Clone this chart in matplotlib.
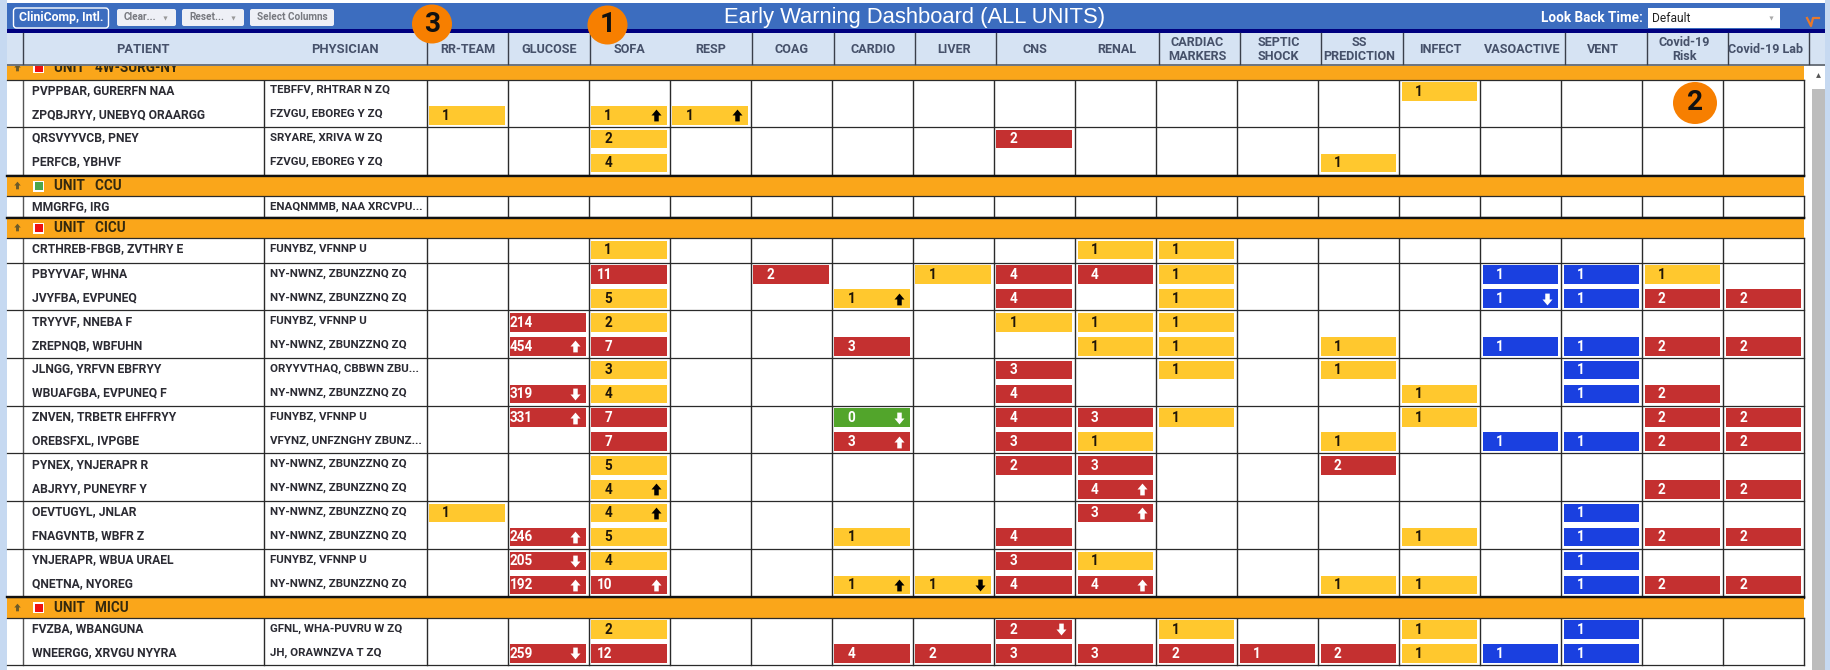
import matplotlib
matplotlib.use('Agg')
import matplotlib.pyplot as plt
from matplotlib.patches import Rectangle, FancyBboxPatch, Ellipse
from matplotlib.path import Path

patients = ['PVPPBAR, GURERFN NAA', 'ZPQBJRYY, UNEBYQ ORAARGG', 'QRSVYYVCB, PNEY', 'PERFCB, YBHVF',
            'MMGRFG, IRG', 'CRTHREB-FBGB, ZVTHRY E', 'PBYYVAF, WHNA', 'JVYFBA, EVPUNEQ',
            'TRYYVF, NNEBA F', 'ZREPNQB, WBFUHN', 'JLNGG, YRFVN EBFRYY', 'WBUAFGBA, EVPUNEQ F',
            'ZNVEN, TRBETR EHFFRYY', 'OREBSFXL, IVPGBE', 'PYNEX, YNJERAPR R', 'ABJRYY, PUNEYRF Y',
            'OEVTUGYL, JNLAR', 'FNAGVNTB, WBFR Z', 'YNJERAPR, WBUA URAEL', 'QNETNA, NYOREG',
            'FVZBA, WBANGUNA', 'WNEERGG, XRVGU NYYRA']
ALN = 'NY-NWNZ, ZBUNZZNQ ZQ'
physicians = ['TEBFFV, RHTRAR N ZQ', 'FZVGU, EBOREG Y ZQ', 'SRYARE, XRIVA W ZQ', 'FZVGU, EBOREG Y ZQ',
              'ENAQNMMB, NAA XRCVPU...', 'FUNYBZ, VFNNP U', ALN, ALN,
              'FUNYBZ, VFNNP U', ALN, 'ORYYVTHAQ, CBBWN ZBU...', ALN,
              'FUNYBZ, VFNNP U', 'VFYNZ, UNFZNGHY ZBUNZ...', ALN, ALN,
              ALN, ALN, 'FUNYBZ, VFNNP U', ALN,
              'GFNL, WHA-PUVRU W ZQ', 'JH, ORAWNZVA T ZQ']
columns = ['RR-TEAM', 'GLUCOSE', 'SOFA', 'RESP', 'COAG', 'CARDIO', 'LIVER', 'CNS', 'RENAL',
           'CARDIAC\nMARKERS', 'SEPTIC\nSHOCK', 'SS\nPREDICTION', 'INFECT', 'VASOACTIVE', 'VENT',
           'Covid-19\nRisk', 'Covid-19 Lab']

# each cell: row, value, level (y/r/g/b), trend
rr_team = [(1, 1, 'y', ''), (16, 1, 'y', '')]
glucose = [(8, 214, 'r', ''), (9, 454, 'r', 'u'), (11, 319, 'r', 'd'), (12, 331, 'r', 'u'),
           (17, 246, 'r', 'u'), (18, 205, 'r', 'd'), (19, 192, 'r', 'u'), (21, 259, 'r', 'd')]
sofa = [(1, 1, 'y', 'u'), (2, 2, 'y', ''), (3, 4, 'y', ''), (5, 1, 'y', ''), (6, 11, 'r', ''),
        (7, 5, 'y', ''), (8, 2, 'y', ''), (9, 7, 'r', ''), (10, 3, 'y', ''), (11, 4, 'y', ''),
        (12, 7, 'r', ''), (13, 7, 'r', ''), (14, 5, 'y', ''), (15, 4, 'y', 'u'), (16, 4, 'y', 'u'),
        (17, 5, 'y', ''), (18, 4, 'y', ''), (19, 10, 'r', 'u'), (20, 2, 'y', ''), (21, 12, 'r', '')]
resp = [(1, 1, 'y', 'u')]
coag = [(6, 2, 'r', '')]
cardio = [(7, 1, 'y', 'u'), (9, 3, 'r', ''), (12, 0, 'g', 'd'), (13, 3, 'r', 'u'), (17, 1, 'y', ''),
          (19, 1, 'y', 'u'), (21, 4, 'r', '')]
liver = [(6, 1, 'y', ''), (19, 1, 'y', 'd'), (21, 2, 'r', '')]
cns = [(2, 2, 'r', ''), (6, 4, 'r', ''), (7, 4, 'r', ''), (8, 1, 'y', ''), (10, 3, 'r', ''),
       (11, 4, 'r', ''), (12, 4, 'r', ''), (13, 3, 'r', ''), (14, 2, 'r', ''), (17, 4, 'r', ''),
       (18, 3, 'r', ''), (19, 4, 'r', ''), (20, 2, 'r', 'd'), (21, 3, 'r', '')]
renal = [(5, 1, 'y', ''), (6, 4, 'r', ''), (8, 1, 'y', ''), (9, 1, 'y', ''), (12, 3, 'r', ''),
         (13, 1, 'y', ''), (14, 3, 'r', ''), (15, 4, 'r', 'u'), (16, 3, 'r', 'u'), (18, 1, 'y', ''),
         (19, 4, 'r', 'u'), (21, 3, 'r', '')]
cardiac = [(5, 1, 'y', ''), (6, 1, 'y', ''), (7, 1, 'y', ''), (8, 1, 'y', ''), (9, 1, 'y', ''),
           (10, 1, 'y', ''), (12, 1, 'y', ''), (20, 1, 'y', ''), (21, 2, 'r', '')]
septic = [(21, 1, 'r', '')]
ss_pred = [(3, 1, 'y', ''), (9, 1, 'y', ''), (10, 1, 'y', ''), (13, 1, 'y', ''), (14, 2, 'r', ''),
           (19, 1, 'y', ''), (21, 2, 'r', '')]
infect = [(0, 1, 'y', ''), (11, 1, 'y', ''), (12, 1, 'y', ''), (17, 1, 'y', ''), (19, 1, 'y', ''),
          (20, 1, 'y', ''), (21, 1, 'y', '')]
vaso = [(6, 1, 'b', ''), (7, 1, 'b', 'd'), (9, 1, 'b', ''), (13, 1, 'b', ''), (21, 1, 'b', '')]
vent = [(6, 1, 'b', ''), (7, 1, 'b', ''), (9, 1, 'b', ''), (10, 1, 'b', ''), (11, 1, 'b', ''),
        (13, 1, 'b', ''), (16, 1, 'b', ''), (17, 1, 'b', ''), (18, 1, 'b', ''), (19, 1, 'b', ''),
        (20, 1, 'b', ''), (21, 1, 'b', '')]
covid_risk = [(6, 1, 'y', ''), (7, 2, 'r', ''), (9, 2, 'r', ''), (11, 2, 'r', ''), (12, 2, 'r', ''),
              (13, 2, 'r', ''), (15, 2, 'r', ''), (17, 2, 'r', ''), (19, 2, 'r', '')]
covid_lab = [(7, 2, 'r', ''), (9, 2, 'r', ''), (12, 2, 'r', ''), (13, 2, 'r', ''), (15, 2, 'r', ''),
             (17, 2, 'r', ''), (19, 2, 'r', '')]
all_cells = [rr_team, glucose, sofa, resp, coag, cardio, liver, cns, renal, cardiac, septic, ss_pred,
             infect, vaso, vent, covid_risk, covid_lab]

# unit bands: name, status colour, how the rows below are grouped
units = [('4W-SURG-NY', '#EE1111', [2, 2]),
         ('CCU', '#4CA64C', [1]),
         ('CICU', '#EE1111', [1, 2, 2, 2, 2, 2, 2, 2]),
         ('MICU', '#EE1111', [2])]

LEVEL_COLOR = {'y': '#FFC82E', 'r': '#C43030', 'g': '#52A52B', 'b': '#1A40E0'}
LINE = '#2a2a2a'

COL0 = 426.5      # left edge of first score column
COL_W = 81.05
HEAD_X0 = 427.0
HEAD_W = 81.3
BAND_H = 19.5
PAIR_H = 47.7
RIGHT = 1804


def px(size):
    return size * 0.72


fig = plt.figure(figsize=(18.3, 6.7), dpi=100, facecolor='white')
ax = fig.add_axes([0, 0, 1, 1])
ax.set_xlim(0, 1830)
ax.set_ylim(670, 0)
ax.axis('off')
plt.rcParams['font.family'] = 'Roboto'


def box(x0, y0, x1, y1, color, z=1):
    ax.add_patch(Rectangle((x0, y0), x1 - x0, y1 - y0, fc=color, ec='none', zorder=z))


up_arrow = Path([(0, 1), (0.85, 0.0), (0.38, 0.0), (0.38, -1), (-0.38, -1), (-0.38, 0.0), (-0.85, 0.0), (0, 1)], closed=True)
down_arrow = Path([(0, -1), (0.85, 0.0), (0.38, 0.0), (0.38, 1), (-0.38, 1), (-0.38, 0.0), (-0.85, 0.0), (0, -1)], closed=True)

# page background strips
box(0, 0, 7, 670, '#C6D9F1')
box(1825, 0, 1830, 670, '#C6D9F1')

# table body, walking down the groups
row_top = {}
row_idx = 0
y = 79.5
first = True
band_spans = []
group_ends = []
for name, status, groups in units:
    if first:
        band_top = 60
    else:
        band_top = y + 1.5
    band_bottom = band_top + BAND_H
    box(7, band_top, RIGHT, band_bottom, '#FAA61A', 2)
    ax.plot([7, RIGHT], [band_bottom + 0.2] * 2, color=LINE, lw=0.9, zorder=3)
    if not first:
        ax.plot([7, RIGHT], [band_top - 0.8] * 2, color='#111111', lw=1.7, zorder=3)
    mid = (band_top + band_bottom) / 2
    if first:
        mid -= 2
    first = False
    ax.plot([16.6], [mid - 1], marker=up_arrow, ms=5.5, color='#6b5a2a', mec='none', zorder=4)
    box(33, mid - 5.5, 44, mid + 5.5, 'white', 4)
    box(34.5, mid - 4, 42.5, mid + 4, status, 5)
    ax.text(54.5, mid, 'UNIT   ' + name, fontsize=px(13.5), weight='bold', color='#33290f',
            va='center', ha='left', zorder=4)
    y = band_bottom
    for n in groups:
        h = PAIR_H
        if n == 1:
            h = 21.0 if name == 'CCU' else 24.8
        for k in range(n):
            row_top[row_idx] = y + k * 24.0
            row_idx += 1
        y += h
        group_ends.append(y)
    band_spans.append((band_top, band_bottom))

# grid lines
body_bottom = y
for end in group_ends:
    ax.plot([7, RIGHT], [end, end], color=LINE, lw=0.9, zorder=2.5)
grid_xs = [22.5, 264] + [COL0 + COL_W * i for i in range(18)]
for i, gx in enumerate(grid_xs):
    for b0, b1 in zip([b[1] for b in band_spans], [b[0] for b in band_spans[1:]] + [body_bottom]):
        ax.plot([gx, gx], [b0, b1], color='#555555' if i == 0 else LINE, lw=1.0, zorder=1.5)

# patient and physician text
for i in range(len(patients)):
    ty = row_top[i] + 10.8
    ax.text(31.5, ty, patients[i], fontsize=px(12.1), weight='bold', color='#2b2b33', va='center', zorder=4)
    ax.text(269.5, ty, physicians[i], fontsize=px(11.5), weight='bold', color='#2b2b33', va='center', zorder=4)

# score cells
for c, cells in enumerate(all_cells):
    left = COL0 + COL_W * c
    for row, value, level, trend in cells:
        top = row_top[row] + 2.6
        ax.bar(left + 2.6, 18.5, width=75.6, bottom=top, align='edge', color=LEVEL_COLOR[level], zorder=3)
        tc = '#1f1608' if level == 'y' else 'white'
        tx = left + 25.5 if value >= 100 else left + 23.5
        ax.text(tx, top + 9.6, str(value), fontsize=px(13.5), weight='bold', color=tc,
                ha='right', va='center', zorder=4)
        if trend:
            ax.plot([left + 67], [top + 9.2], marker=up_arrow if trend == 'u' else down_arrow, ms=8.5,
                    color='black' if level == 'y' else 'white', mec='none', zorder=4)

# scrollbar
box(1812, 89, 1824.5, 670, '#BDBDBD', 2)
ax.plot([1818], [75], marker='^', ms=3.5, color='#555555', mec='none', zorder=3)

# header row
box(7, 33, 1825, 65, '#D6E3F3', 6)
box(7, 64, 1825, 65.5, '#6f7680', 6.5)
for hx in [22.5] + [HEAD_X0 + HEAD_W * i for i in (0, 1, 2, 4, 5, 6, 7, 9, 10, 11, 12, 14, 15, 16, 17)]:
    ax.plot([hx, hx], [33, 64], color='#3a3f4a', lw=1.0, zorder=7)
ax.text(142.7, 49.5, 'PATIENT', fontsize=px(13), weight='bold', color='#46516a', ha='center', va='center', zorder=8)
ax.text(345, 49.5, 'PHYSICIAN', fontsize=px(13), weight='bold', color='#46516a', ha='center', va='center', zorder=8)
for i, label in enumerate(columns):
    ax.text(467.6 + 81.1 * i, 49.5, label, fontsize=px(12.6), weight='bold', color='#46516a',
            ha='center', va='center', linespacing=1.05, zorder=8)

# title bar
box(7, 3, 1825, 30, '#3C6DBF', 6)
box(7, 29, 1825, 33, '#00007F', 6.5)
ax.text(915, 17.5, 'Early Warning Dashboard (ALL UNITS)', fontsize=px(22), family='Liberation Sans', color='white',
        ha='center', va='center', zorder=8)
ax.add_patch(FancyBboxPatch((15, 9.5), 92, 17, boxstyle='round,pad=1.5,rounding_size=3', fc='#3C6DBF', ec='white', lw=1, zorder=7))
ax.text(61, 18, 'CliniComp, Intl.', fontsize=px(12.2), weight='bold', color='white', ha='center', va='center', zorder=8)
for x0, x1, label, has_caret in [(117, 176, 'Clear...', True), (182, 244, 'Reset...', True), (250, 334, 'Select Columns', False)]:
    ax.add_patch(FancyBboxPatch((x0 + 1, 10), x1 - x0 - 2, 15, boxstyle='round,pad=1,rounding_size=2', fc='#EEF0F6', ec='none', zorder=7))
    tx = x0 + 7 if has_caret else (x0 + x1) / 2
    ax.text(tx, 17.5, label, fontsize=px(10), weight='bold', color='#77797f',
            ha='left' if has_caret else 'center', va='center', zorder=8)
    if has_caret:
        ax.plot([x1 - 11], [18], marker='v', ms=3, color='#999999', mec='none', zorder=8)
ax.text(1643, 17.5, 'Look Back Time:', fontsize=px(13.5), weight='bold', color='white', ha='right', va='center', zorder=8)
box(1647.5, 8, 1780, 28, 'white', 7)
ax.text(1652, 18, 'Default', fontsize=px(12), color='#222222', va='center', zorder=8)
ax.plot([1771], [18], marker='v', ms=3, color='#aaaaaa', mec='none', zorder=8)
ax.plot([1807, 1811, 1813, 1819], [18, 26, 18, 18], color='#E8792B', lw=1.6, zorder=8)

# numbered callouts
for cx, cy, rx, ry, num, z in [(432, 24, 20, 19.5, '3', 10), (607.5, 25, 20, 19.5, '1', 10), (1695, 103, 22, 21, '2', 10)]:
    ax.add_patch(Ellipse((cx, cy), rx * 2, ry * 2, fc='#F77F00', ec='none', zorder=z))
    ax.text(cx, cy, num, fontsize=px(28), weight='bold', color='#111111', ha='center', va='center', zorder=z + 1)

fig.savefig('out.png', dpi=100, facecolor='white')
